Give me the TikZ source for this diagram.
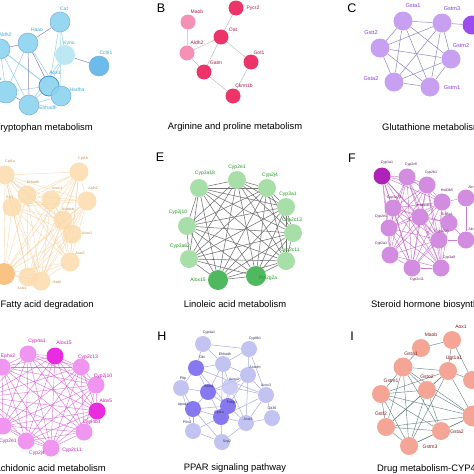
\documentclass[tikz,border=0pt]{standalone}
\usepackage{fontspec}
\setmainfont{Liberation Sans}
\usetikzlibrary{backgrounds}
\definecolor{Afill}{RGB}{140,212,238}\definecolor{Akyn}{RGB}{182,228,242}\definecolor{Accb}{RGB}{92,180,232}
\definecolor{Aline}{RGB}{60,140,210}\definecolor{Alab}{RGB}{60,170,220}\definecolor{Aedge}{RGB}{150,210,230}\definecolor{Aedgp}{RGB}{140,130,200}
\definecolor{Bdark}{RGB}{236,52,104}\definecolor{Blight}{RGB}{245,145,180}\definecolor{Bedge}{RGB}{190,190,190}\definecolor{Blab}{RGB}{170,25,75}
\definecolor{Cfill}{RGB}{200,160,242}\definecolor{Cdark}{RGB}{155,77,240}\definecolor{Cedge}{RGB}{140,135,190}\definecolor{Clab}{RGB}{135,60,225}
\definecolor{Dfill}{RGB}{252,218,170}\definecolor{Ddark}{RGB}{248,184,110}\definecolor{Dedge}{RGB}{245,200,140}\definecolor{Dlab}{RGB}{200,140,80}
\definecolor{Efill}{RGB}{168,222,168}\definecolor{Edark}{RGB}{80,185,95}\definecolor{Eedge}{RGB}{115,115,115}\definecolor{Elab}{RGB}{40,150,40}
\definecolor{Ffill}{RGB}{210,140,224}\definecolor{Fdark}{RGB}{175,35,185}\definecolor{Fedge}{RGB}{180,70,185}\definecolor{Flab}{RGB}{100,30,100}
\definecolor{Gfill}{RGB}{240,150,240}\definecolor{Gdark}{RGB}{232,45,224}\definecolor{Gedge}{RGB}{210,80,205}\definecolor{Glab}{RGB}{200,30,185}
\definecolor{Hfill}{RGB}{195,195,242}\definecolor{Hdark}{RGB}{135,120,240}\definecolor{Hedge}{RGB}{170,170,225}\definecolor{Hlab}{RGB}{50,50,90}
\definecolor{Ifill}{RGB}{244,165,150}\definecolor{Iedge}{RGB}{110,135,135}\definecolor{Ilab}{RGB}{120,30,30}
\newcommand\kgraph[2]{\foreach \ka [count=\ki] in {#2}{\foreach \kb [count=\kj] in {#2}{\ifnum\ki<\kj \draw[#1] (\ka) -- (\kb);\fi}}}
\newcommand\edgelist[2]{\foreach \ka/\kb in {#2}{\draw[#1] (\ka) -- (\kb);}}
\tikzset{
 gn/.style={circle,inner sep=0pt,minimum size=#1},
 gn/.default=18pt,
 lab/.style={inner sep=0pt,font=\fontsize{5}{5}\selectfont},
 slab/.style={inner sep=0pt,font=\fontsize{3.6}{3.6}\selectfont},
 ttl/.style={inner sep=0pt,font=\fontsize{9.4}{10}\selectfont},
 letter/.style={inner sep=0pt,font=\fontsize{12.5}{13}\selectfont},
 ed/.style={line width=0.5pt}
}
\begin{document}
\begin{tikzpicture}[x=1pt,y=-1pt]
\useasboundingbox (0,0) rectangle (474,474);
% ---------- Panel A ----------
\tikzset{an/.style={gn=20pt,fill=Afill,draw=Aline!70,line width=0.5pt,fill opacity=0.9},al/.style={lab,text=Alab}}
\node[an] (aCat) at (60,22) {};
\node[an] (aHaao) at (28,43) {};
\node[an] (aAldh) at (0,49) {};
\node[an,fill=Akyn,draw=none] (aKynu) at (65,55) {};
\node[an,fill=Accb] (aCcbl) at (99,66) {};
\node[an,gn=22pt] (aLx) at (6,92) {};
\node[an,draw=Aline,line width=0.7pt] (aAox) at (49,86) {};
\node[an] (aHadha) at (61,96) {};
\node[an] (aEhh) at (29,105) {};
\node[al] (laCat) at (64,9) {Cat};
\node[al] (laHaao) at (37,30) {Haao};
\node[al] (laAldh) at (5,35) {Aldh2};
\node[al] (laKynu) at (69,43) {Kynu};
\node[al] (laCcbl) at (106,53) {Ccbl1};
\node[al] (laLx) at (-5,79) {Maoa};
\node[al] (laAox) at (55,73) {Aox1};
\node[al] (laHadha) at (77,90) {Hadha};
\node[al] (laEhh) at (48,108) {Ehhadh};
\node[ttl,anchor=base east] (taA) at (93,130) {Tryptophan metabolism};
% ---------- Panel B ----------
\tikzset{bn/.style={gn=15pt,fill=Bdark},bl/.style={lab,text=Blab}}
\node[bn] (bPycr) at (236,8) {};
\node[bn,fill=Blight] (bMaob) at (188,22) {};
\node[bn] (bOat) at (221,37) {};
\node[bn,fill=Blight] (bAldh) at (187,53) {};
\node[bn] (bGot) at (251,62) {};
\node[bn] (bGatm) at (204,72) {};
\node[bn] (bCkmt) at (233,96) {};
\node[bl] (lbPycr) at (253,8) {Pycr2};
\node[bl] (lbMaob) at (197,12) {Maob};
\node[bl] (lbOat) at (233,30) {Oat};
\node[bl] (lbAldh) at (197,43) {Aldh2};
\node[bl] (lbGot) at (259,53) {Got1};
\node[bl] (lbGatm) at (216,63) {Gatm};
\node[bl] (lbCkmt) at (244,86) {Ckmt1b};
\node[ttl] (tbB) at (235,127) {Arginine and proline metabolism};
\node[letter] (LB) at (161,8) {B};
% ---------- Panel C ----------
\tikzset{cn/.style={gn=19pt,fill=Cfill},cl/.style={lab,text=Clab,font=\fontsize{5.5}{5.5}\selectfont}}
\node[cn] (cGsta1) at (403,21) {};
\node[cn] (cGstm3) at (442,23) {};
\node[cn] (cGstt2) at (380,48) {};
\node[cn] (cGstm2) at (451,59) {};
\node[cn] (cGsta2) at (394,82) {};
\node[cn] (cGstm1) at (430,87) {};
\node[cn,fill=Cdark] (cGx) at (472,25) {};
\node[cl] (lcGsta1) at (413,6) {Gsta1};
\node[cl] (lcGstm3) at (452,9) {Gstm3};
\node[cl] (lcGstt2) at (371,33) {Gstt2};
\node[cl] (lcGstm2) at (461,46) {Gstm2};
\node[cl] (lcGsta2) at (371,79) {Gsta2};
\node[cl] (lcGstm1) at (452,88) {Gstm1};
\node[cl] (lcGx) at (484,11) {Gstp1};
\node[ttl,anchor=base west] (tcC) at (382,130) {Glutathione metabolism};
\node[letter] (LC) at (352,8) {C};
% ---------- Panel D ----------
\tikzset{dn/.style={gn=19pt,fill=Dfill,fill opacity=0.85},dl/.style={slab,text=Dlab}}
\node[dn] (d1) at (5,175) {};
\node[dn] (d2) at (79,172) {};
\node[dn] (d3) at (27,195) {};
\node[dn] (d4) at (51,200) {};
\node[dn] (d5) at (87,201) {};
\node[dn] (d6) at (12,207) {};
\node[dn] (d7) at (63,220) {};
\node[dn] (d8) at (72,234) {};
\node[dn] (d9) at (70,262) {};
\node[dn] (d10) at (41,281) {};
\node[dn] (d11) at (28,277) {};
\node[dn,gn=22pt,fill=Ddark] (d12) at (4,274) {};
\node[dl] (ld1) at (10,162) {Cpt1a};
\node[dl] (ld2) at (83,159) {Cpt1b};
\node[dl] (ld3) at (33,182) {Ehhadh};
\node[dl] (ld4) at (57,188) {Acox3};
\node[dl] (ld5) at (93,188) {Aldh2};
\node[dl] (ld6) at (10,197) {Eci1};
\node[dl] (ld7) at (68,209) {Acadsb};
\node[dl] (ld8) at (87,233) {Acox1};
\node[dl] (ld9) at (80,253) {Acat2};
\node[dl] (ld10) at (57,282) {Hadh};
\node[dl] (ld11) at (22,288) {Acat1};
\node[ttl,anchor=base west] (tdD) at (0.5,307) {Fatty acid degradation};
% ---------- Panel E ----------
\tikzset{en/.style={gn=18pt,fill=Efill},el/.style={lab,text=Elab}}
\node[en] (e1) at (199,188) {};
\node[en] (e2) at (237,180) {};
\node[en] (e3) at (267,188) {};
\node[en] (e4) at (286,207) {};
\node[en] (e5) at (293,233) {};
\node[en] (e6) at (286,261) {};
\node[en,gn=20pt,fill=Edark] (e7) at (256,276) {};
\node[en,gn=20pt,fill=Edark] (e8) at (218,280) {};
\node[en] (e9) at (189,259) {};
\node[en] (e10) at (187,226) {};
\node[el] (le1) at (205,173) {Cyp3a18};
\node[el] (le2) at (237,167) {Cyp2e1};
\node[el] (le3) at (270,175) {Cyp2j4};
\node[el] (le4) at (288,194) {Cyp3a1};
\node[el] (le5) at (292,220) {Cyp2c13};
\node[el] (le6) at (290,250) {Cyp2c11};
\node[el] (le7) at (268,278) {Pla2g2a};
\node[el] (le8) at (198,280) {Alox15};
\node[el] (le9) at (180,246) {Cyp3a62};
\node[el] (le10) at (178,212) {Cyp2j10};
\node[ttl] (teE) at (235,304) {Linoleic acid metabolism};
\node[letter] (LE) at (160,157) {E};
% ---------- Panel F ----------
\tikzset{fn/.style={gn=17pt,fill=Ffill},fl/.style={slab,text=Flab}}
\node[fn,fill=Fdark] (f1) at (382,176) {};
\node[fn] (f2) at (407,177) {};
\node[fn] (f3) at (427,185) {};
\node[fn] (f4) at (442,202) {};
\node[fn] (f5) at (466,198) {};
\node[fn] (f6) at (393,208) {};
\node[fn] (f7) at (420,217) {};
\node[fn] (f8) at (389,228) {};
\node[fn] (f9) at (449,223) {};
\node[fn] (f10) at (466,240) {};
\node[fn] (f11) at (439,240) {};
\node[fn] (f12) at (390,255) {};
\node[fn] (f13) at (412,268) {};
\node[fn] (f14) at (441,268) {};
\node[fl] (lf1) at (387,163) {Cyp1a1};
\node[fl] (lf2) at (411,165) {Cyp2c6};
\node[fl] (lf3) at (431,173) {Cyp2b1};
\node[fl] (lf4) at (447,190) {Hsd3b5};
\node[fl] (lf5) at (474,187) {Akr1d1};
\node[fl] (lf6) at (394,198) {Cyp3a23};
\node[fl] (lf7) at (424,205) {Hsd11b1};
\node[fl] (lf8) at (381,217) {Cyp2e1};
\node[fl] (lf9) at (447,214) {Srd5a1};
\node[fl] (lf10) at (474,229) {Akr1c1};
\node[fl] (lf11) at (442,232) {Cyp17a1};
\node[fl] (lf12) at (381,244) {Cyp2a1};
\node[fl] (lf13) at (417,280) {Cyp2c11};
\node[fl] (lf14) at (449,258) {Cyp3a9};
\node[ttl,anchor=base west] (tfF) at (371,307) {Steroid hormone biosynthesis};
\node[letter] (LF) at (352,158) {F};
% ---------- Panel G ----------
\tikzset{gnd/.style={gn=17pt,fill=Gfill},gl/.style={lab,text=Glab}}
\node[gnd] (g0) at (-16,397) {};
\node[gnd] (g1) at (2,367) {};
\node[gnd] (g2) at (28,354) {};
\node[gnd,fill=Gdark] (g3) at (55,356) {};
\node[gnd] (g4) at (81,367) {};
\node[gnd] (g5) at (96,385) {};
\node[gnd,fill=Gdark] (g6) at (97,411) {};
\node[gnd] (g7) at (84,432) {};
\node[gnd] (g8) at (51,448) {};
\node[gnd] (g9) at (26,441) {};
\node[gnd] (g10) at (3,426) {};
\node[gl] (lg1) at (8,356) {Ephx2};
\node[gl] (lg2) at (37,341) {Cyp4a1};
\node[gl] (lg3) at (64,343) {Alox15};
\node[gl] (lg4) at (88,357) {Cyp2c13};
\node[gl] (lg5) at (103,376) {Cyp2j10};
\node[gl] (lg6) at (106,401) {Alox5};
\node[gl] (lg7) at (92,422) {Cyp4b1};
\node[gl] (lg8) at (72,450) {Cyp2c11};
\node[gl] (lg9) at (37,453) {Cyp2j4};
\node[gl] (lg10) at (8,441) {Cyp2e1};
\node[ttl,anchor=base east] (tgG) at (106,471) {Arachidonic acid metabolism};
% ---------- Panel H ----------
\tikzset{hn/.style={gn=16pt,fill=Hfill},hl/.style={slab,text=Hlab}}
\node[hn] (h1) at (203,344) {};
\node[hn] (h2) at (249,349) {};
\node[hn] (h3) at (223,364) {};
\node[hn,fill=Hdark] (h4) at (196,368) {};
\node[hn] (h5) at (248,375) {};
\node[hn] (h6) at (181,388) {};
\node[hn,fill=Hdark] (h7) at (208,392) {};
\node[hn,fill opacity=0.85] (h8) at (230,387) {};
\node[hn] (h9) at (266,395) {};
\node[hn,fill=Hdark] (h10) at (193,409) {};
\node[hn,fill=Hdark] (h11) at (228,406) {};
\node[hn,fill=Hdark] (h12) at (221,417) {};
\node[hn] (h13) at (246,423) {};
\node[hn] (h14) at (272,418) {};
\node[hn] (h15) at (193,431) {};
\node[hn] (h16) at (222,442) {};
\node[hl] (lh1) at (209,333) {Cyp4a1};
\node[hl] (lh2) at (255,339) {Cyp8b1};
\node[hl] (lh3) at (225,354) {Ehhadh};
\node[hl] (lh4) at (202,357) {Dbi};
\node[hl] (lh5) at (255,367) {Acadm};
\node[hl] (lh6) at (183,379) {Pltp};
\node[hl] (lh7) at (209,386) {Acadl};
\node[hl] (lh8) at (234,379) {Acox1};
\node[hl] (lh9) at (266,385) {Acox3};
\node[hl] (lh10) at (183,405) {Apoa1};
\node[hl] (lh11) at (232,403) {Fabp1};
\node[hl] (lh12) at (219,413) {Cpt1a};
\node[hl] (lh13) at (248,419) {Acsl1};
\node[hl] (lh14) at (272,408) {Cd36};
\node[hl] (lh15) at (187,422) {Plin2};
\node[hl] (lh16) at (227,442) {Scp2};
\node[ttl] (thH) at (235,468) {PPAR signaling pathway};
\node[letter] (LH) at (162,336) {H};
% ---------- Panel I ----------
\tikzset{inn/.style={gn=18pt,fill=Ifill},il/.style={lab,text=Ilab}}
\node[inn] (i1) at (452,340) {};
\node[inn] (i2) at (421,348) {};
\node[inn] (i3) at (448,371) {};
\node[inn,gn=19pt] (i4) at (403,367) {};
\node[inn] (i5) at (472,380) {};
\node[inn] (i6) at (381,394) {};
\node[inn] (i7) at (427,390) {};
\node[inn,gn=21pt] (i8) at (473,416) {};
\node[inn] (i9) at (386,427) {};
\node[inn] (i10) at (441,431) {};
\node[inn] (i11) at (409,446) {};
\node[il] (li1) at (461,327) {Aox1};
\node[il] (li2) at (431,335) {Maob};
\node[il] (li3) at (454,358) {Ugt1a1};
\node[il] (li4) at (411,354) {Gsta1};
\node[il] (li6) at (391,381) {Gstm1};
\node[il] (li7) at (427,377) {Gsto2};
\node[il] (li8) at (482,398) {Adh1};
\node[il] (li9) at (381,414) {Gstt2};
\node[il] (li10) at (457,432) {Gsta2};
\node[il] (li11) at (430,447) {Gstm3};
\node[ttl,anchor=base west] (tiI) at (377,471) {Drug metabolism-CYP450};
\node[letter] (LI) at (352,336) {I};
% ---------- Edges ----------
\begin{scope}[on background layer]
\edgelist{ed,Aedge}{aCat/aKynu,aCat/aAox,aCat/aHadha,aHaao/aHadha,aAldh/aAox,aAldh/aHadha,aAldh/aLx,aLx/aAox,aLx/aHaao,aEhh/aAox,aEhh/aHadha,aKynu/aEhh,aKynu/aAox,aAldh/aEhh}
\edgelist{ed,Aedgp}{aCat/aHaao,aHaao/aAldh,aHaao/aEhh,aHaao/aAox,aKynu/aCcbl,aLx/aEhh}
\edgelist{ed,Bedge}{bPycr/bOat,bMaob/bAldh,bAldh/bOat,bAldh/bGatm,bOat/bGatm,bOat/bGot,bGot/bCkmt,bGatm/bCkmt}
\kgraph{ed,Cedge}{cGsta1,cGstm3,cGstt2,cGstm2,cGsta2,cGstm1}
\draw[ed,Cedge] (cGstm3) -- (cGx);
\kgraph{ed,Dedge,opacity=0.65,line width=0.45pt}{d1,d2,d3,d4,d5,d6,d7,d8,d9,d10,d11,d12}
\kgraph{ed,Eedge,line width=0.55pt}{e1,e2,e3,e4,e5,e6,e7,e8,e9,e10}
\kgraph{ed,Fedge,opacity=0.7,line width=0.45pt}{f1,f2,f3,f4,f6,f7,f8,f11,f12,f13,f14}
\edgelist{ed,Fedge,opacity=0.7,line width=0.45pt}{f4/f5,f5/f10,f9/f10,f10/f11,f9/f4,f9/f7,f9/f14,f9/f11,f9/f13,f9/f6}
\kgraph{ed,Gedge,opacity=0.75,line width=0.45pt}{g0,g1,g2,g3,g4,g5,g6,g7,g8,g9,g10}
\edgelist{ed,Hedge}{h1/h3,h1/h4,h1/h2,h2/h3,h2/h5,h3/h4,h3/h5,h3/h7,h3/h8,h3/h12,h4/h6,h4/h7,h4/h11,h5/h8,h5/h9,h5/h11,h5/h13,h6/h7,h6/h10,h7/h8,h7/h10,h7/h11,h7/h12,h8/h9,h8/h11,h8/h12,h8/h13,h9/h13,h9/h14,h9/h12,h10/h12,h10/h15,h10/h11,h11/h12,h11/h13,h12/h13,h12/h16,h13/h16,h13/h14,h15/h16,h15/h12,h10/h16,h6/h15,h5/h7,h2/h9,h4/h9}
\edgelist{ed,Iedge,line width=0.45pt}{i1/i2,i1/i3,i1/i5,i2/i4,i3/i4,i3/i5,i3/i7,i3/i6,i3/i8,i3/i9,i3/i11,i4/i6,i4/i7,i4/i8,i4/i9,i4/i11,i4/i10,i6/i7,i6/i8,i6/i9,i6/i10,i6/i11,i7/i8,i7/i9,i7/i10,i7/i11,i9/i10,i9/i11,i9/i8,i10/i11,i10/i8,i11/i8}
\end{scope}
\end{tikzpicture}
\end{document}
